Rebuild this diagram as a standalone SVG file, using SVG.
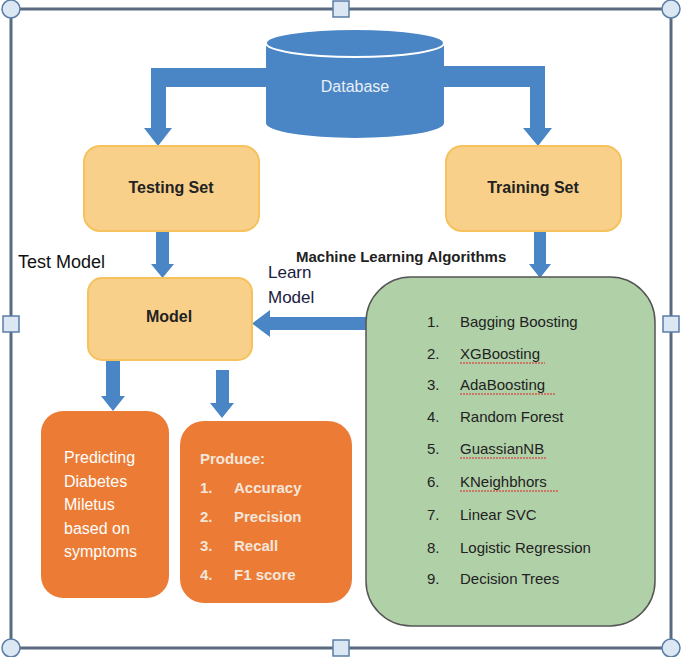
<svg xmlns="http://www.w3.org/2000/svg" width="685" height="657" viewBox="0 0 685 657">
<style>
.t{font-family:"Liberation Sans Narrow","Liberation Sans",Arial,sans-serif}
.b{font-weight:bold}
.ar{fill:#4a86c5}
.yel{fill:#f8d08a;stroke:#f6c25e;stroke-width:2}
.org{fill:#ec7c35}
.h{fill:#dbe7f3;stroke:#5b7ea6;stroke-width:1.5}
.sq{stroke:#e02020;stroke-width:1;fill:none;stroke-dasharray:2 1}
</style>
<rect width="685" height="657" fill="#fff"/>
<g id="frame">
<rect x="11" y="9" width="660" height="639" fill="none" stroke="#5a6a80" stroke-width="3"/>
<circle class="h" cx="11" cy="9" r="9"/><circle class="h" cx="671" cy="9" r="9"/>
<circle class="h" cx="11" cy="648" r="9"/><circle class="h" cx="671" cy="648" r="9"/>
<rect class="h" x="333" y="1" width="16" height="16"/><rect class="h" x="333" y="640" width="16" height="16"/>
<rect class="h" x="3" y="316" width="16" height="16"/><rect class="h" x="663" y="316" width="16" height="16"/>
</g>
<g id="connectors">
<polygon class="ar" points="270,68 151,68 151,128 144,128 158,146 172,128 166,128 166,87 270,87"/>
<polygon class="ar" points="440,66 545,66 545,128 552,128 538,146 523,128 530,128 530,87 440,87"/>
<polygon class="ar" points="156,232 169,232 169,264 174,264 162.5,278 151,264 156,264"/>
<polygon class="ar" points="534,232 546,232 546,264 551,264 540,278 529,264 534,264"/>
<polygon class="ar" points="366,317 270,317 270,310 252,323.5 270,337 270,330 366,330"/>
<polygon class="ar" points="106,360 120,360 120,396 125,396 113,411 101,396 106,396"/>
<polygon class="ar" points="216,370 229,370 229,403 234,403 222,418 210,403 216,403"/>
</g>
<g id="database">
<path d="M266,45 L266,123 A89,15 0 0 0 444,123 L444,45 Z" fill="#4a86c5"/>
<ellipse cx="355" cy="43" rx="89" ry="14" fill="#4a86c5" stroke="#fff" stroke-width="2"/>
<text class="t" x="355" y="92" font-size="16" fill="#e8eef6" text-anchor="middle">Database</text>
</g>
<g id="testing"><rect class="yel" x="84" y="146" width="175" height="85" rx="16"/>
<text class="t b" x="171" y="193" font-size="16" text-anchor="middle" fill="#222">Testing Set</text></g>
<g id="training"><rect class="yel" x="446" y="146" width="175" height="85" rx="16"/>
<text class="t b" x="533" y="193" font-size="16" text-anchor="middle" fill="#222">Training Set</text></g>
<g id="model"><rect class="yel" x="88" y="278" width="164" height="82" rx="14"/>
<text class="t b" x="169" y="322" font-size="16" text-anchor="middle" fill="#222">Model</text></g>
<g id="labels" class="t">
<text x="18" y="268" font-size="18" fill="#111">Test Model</text>
<text x="268" y="278" font-size="17" fill="#1a2040">Learn</text>
<text x="268" y="303" font-size="17" fill="#1a2040">Model</text>
<text class="b" x="296" y="262" font-size="15" fill="#222">Machine  Learning Algorithms</text>
</g>
<g id="algorithms">
<rect x="366" y="277" width="289" height="349" rx="45" fill="#b0d0a8" stroke="#555" stroke-width="1.5"/>
<g class="t" font-size="15" fill="#222">
<text x="427" y="327">1.</text><text x="460" y="327">Bagging Boosting</text>
<text x="427" y="359">2.</text><text x="460" y="359">XGBoosting</text>
<text x="427" y="390">3.</text><text x="460" y="390">AdaBoosting</text>
<text x="427" y="422">4.</text><text x="460" y="422">Random Forest</text>
<text x="427" y="454">5.</text><text x="460" y="454">GuassianNB</text>
<text x="427" y="487">6.</text><text x="460" y="487">KNeighbhors</text>
<text x="427" y="520">7.</text><text x="460" y="520">Linear SVC</text>
<text x="427" y="553">8.</text><text x="460" y="553">Logistic Regression</text>
<text x="427" y="584">9.</text><text x="460" y="584">Decision Trees</text>
</g>
<path class="sq" d="M460,363 H545 M460,394 H555 M460,458 H547 M460,491 H558"/>
</g>
<g id="predict"><rect class="org" x="41" y="411" width="128" height="187" rx="22"/>
<g class="t" font-size="16" fill="#fff">
<text x="64" y="463">Predicting</text><text x="64" y="487">Diabetes</text><text x="64" y="510">Miletus</text><text x="64" y="534">based on</text><text x="64" y="557">symptoms</text></g></g>
<g id="produce"><rect class="org" x="180" y="421" width="172" height="182" rx="24"/>
<g class="t b" font-size="15" fill="#f4e6dc">
<text x="200" y="464">Produce:</text>
<text x="200" y="493">1.</text><text x="234" y="493">Accuracy</text>
<text x="200" y="522">2.</text><text x="234" y="522">Precision</text>
<text x="200" y="551">3.</text><text x="234" y="551">Recall</text>
<text x="200" y="580">4.</text><text x="234" y="580">F1 score</text></g></g>
</svg>
